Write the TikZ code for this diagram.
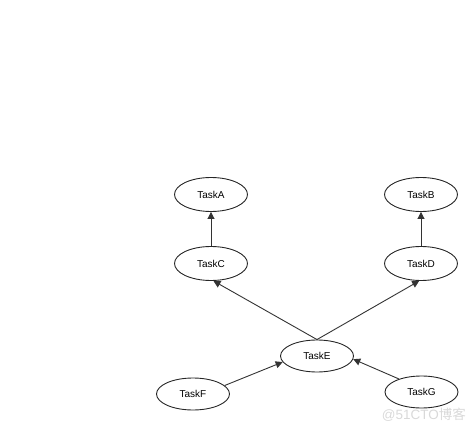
\documentclass[tikz,border=0pt]{standalone}
\usepackage{fontspec}
\setmainfont{Liberation Sans}
\newfontfamily\cjk{Noto Sans CJK SC}
\usetikzlibrary{shapes.geometric,arrows.meta}
\begin{document}
\begin{tikzpicture}[x=1pt,y=-1pt,
  task/.style={draw=black!85,line width=0.9pt,ellipse,minimum width=73pt,minimum height=34pt,inner sep=0pt,font=\fontsize{10}{12}\selectfont},
  link/.style={draw=black!80,line width=0.9pt,-{Triangle[width=7pt,length=7pt]}}]
\useasboundingbox (0,0) rectangle (474,430);
\node[task] (A) at (211,194.5) {TaskA};
\node[task] (B) at (421,194.5) {TaskB};
\node[task] (C) at (211,263.5) {TaskC};
\node[task] (D) at (421,263.5) {TaskD};
\node[task,minimum height=32pt] (E) at (317,356) {TaskE};
\node[task,minimum height=32pt] (F) at (193,394) {TaskF};
\node[task,minimum height=32pt] (G) at (421.5,392) {TaskG};
\draw[link] (C) -- (A);
\draw[link] (D) -- (B);
\draw[link] (E.north) -- (C.-82);
\draw[link] (E.north) -- (D.-96);
\draw[link] (F.15) -- (E.190);
\draw[link] (G.150) -- (E.-5);
\node[text=black!15,font=\fontsize{13.5}{15}\selectfont,anchor=east,inner sep=0pt] (wm) at (466,415) {@51CTO{\cjk 博客}};
\end{tikzpicture}
\end{document}
